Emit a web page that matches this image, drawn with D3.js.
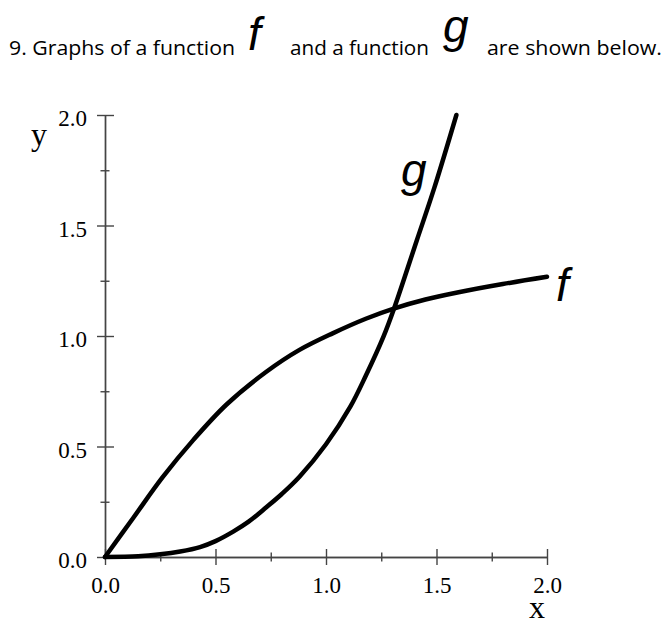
<!DOCTYPE html>
<html>
<head>
<meta charset="utf-8">
<script src="https://cdn.jsdelivr.net/npm/d3@7"></script>
<style>
  body { margin: 0; background: #fff; }
  svg { display: block; }
</style>
</head>
<body>
<script>
// values
var fX = [0, 0.13, 0.26, 0.40, 0.55, 0.73, 0.88, 1.03, 1.18, 1.31, 1.45, 1.60, 1.80, 2.00];
var fY = [0, 0.18, 0.36, 0.53, 0.69, 0.838, 0.937, 1.012, 1.078, 1.125, 1.165, 1.198, 1.235, 1.268];

var gX = [0, 0.15, 0.25, 0.34, 0.43, 0.50, 0.58, 0.65, 0.73, 0.80, 0.88, 1.00, 1.11, 1.18, 1.26, 1.31, 1.41, 1.49, 1.59];
var gY = [0, 0.003, 0.012, 0.025, 0.045, 0.072, 0.115, 0.16, 0.225, 0.285, 0.363, 0.51, 0.68, 0.82, 0.997, 1.13, 1.43, 1.67, 2.0];

var majorTicks = [0, 0.5, 1.0, 1.5, 2.0];
var minorTicks = [0.25, 0.75, 1.25, 1.75];

var width = 669, height = 633;

var svg = d3.select("body").append("svg")
    .attr("width", width)
    .attr("height", height);

var x = d3.scaleLinear().domain([0, 2]).range([105, 547]),
    y = d3.scaleLinear().domain([0, 2]).range([557, 115]);

// TITLE
var title = svg.append("g")
    .attr("font-family", "'Open Sans', sans-serif")
    .attr("font-size", "20px")
    .attr("fill", "#000");

title.append("text").attr("x", 9).attr("y", 55)
    .attr("textLength", 226).attr("lengthAdjust", "spacingAndGlyphs")
    .text("9. Graphs of a function");
title.append("text").attr("x", 290).attr("y", 55)
    .attr("textLength", 139).attr("lengthAdjust", "spacingAndGlyphs")
    .text("and a function");
title.append("text").attr("x", 487).attr("y", 55)
    .attr("textLength", 175).attr("lengthAdjust", "spacingAndGlyphs")
    .text("are shown below.");

var bigItalic = function(sel) {
    sel.attr("font-family", "'Liberation Sans', Arial, sans-serif")
       .attr("font-style", "italic")
       .attr("font-size", "46px")
       .attr("fill", "#000");
};
svg.append("text").call(bigItalic).attr("x", 248).attr("y", 50).text("f");
svg.append("text").call(bigItalic).attr("x", 443).attr("y", 42).text("g");

// AXES
var axisColor = "#444";

var xMajor = svg.append("g")
    .attr("transform", "translate(0," + y(0) + ")")
    .call(d3.axisBottom(x).tickValues(majorTicks).tickSizeOuter(0)
        .tickFormat(d3.format(".1f")));
var xMinor = svg.append("g")
    .attr("transform", "translate(0," + y(0) + ")")
    .call(d3.axisBottom(x).tickValues(minorTicks).tickSizeOuter(0).tickFormat(""));

var yMajor = svg.append("g")
    .attr("transform", "translate(" + x(0) + ",0)")
    .call(d3.axisLeft(y).tickValues(majorTicks).tickSizeOuter(0)
        .tickFormat(d3.format(".1f")));
var yMinor = svg.append("g")
    .attr("transform", "translate(" + x(0) + ",0)")
    .call(d3.axisLeft(y).tickValues(minorTicks).tickSizeOuter(0).tickFormat(""));

// ticks cross the axis line
xMajor.selectAll(".tick line").attr("y1", -8).attr("y2", 8);
xMinor.selectAll(".tick line").attr("y1", -4.5).attr("y2", 4.5);
yMajor.selectAll(".tick line").attr("x1", -8).attr("x2", 9);
yMinor.selectAll(".tick line").attr("x1", -4.5).attr("x2", 4.5);

[xMajor, xMinor, yMajor, yMinor].forEach(function(a) {
    a.selectAll("path.domain").attr("stroke", axisColor).attr("stroke-width", 1.4);
    a.selectAll(".tick line").attr("stroke", axisColor).attr("stroke-width", 1.4);
});

xMajor.selectAll(".tick text")
    .attr("y", 36).attr("dy", 0)
    .attr("font-family", "'Liberation Serif', 'Times New Roman', serif")
    .attr("font-size", "23px")
    .attr("fill", "#000");
yMajor.selectAll(".tick text")
    .attr("x", -18).attr("y", 10.5).attr("dy", 0)
    .attr("font-family", "'Liberation Serif', 'Times New Roman', serif")
    .attr("font-size", "23px")
    .attr("fill", "#000");

// AXIS TITLES
svg.append("text")
    .attr("x", 39).attr("y", 145)
    .attr("text-anchor", "middle")
    .attr("font-family", "'Liberation Serif', 'Times New Roman', serif")
    .attr("font-size", "32px")
    .text("y");
svg.append("text")
    .attr("x", 537).attr("y", 618)
    .attr("text-anchor", "middle")
    .attr("font-family", "'Liberation Serif', 'Times New Roman', serif")
    .attr("font-size", "32px")
    .text("x");

// CURVES
var line = d3.line()
    .x(function(d) { return x(d[0]); })
    .y(function(d) { return y(d[1]); })
    .curve(d3.curveCatmullRom.alpha(0.5));

var fData = d3.zip(fX, fY),
    gData = d3.zip(gX, gY);

svg.selectAll(".curve")
    .data([fData, gData])
    .enter().append("path")
    .attr("class", "curve")
    .attr("d", line)
    .attr("fill", "none")
    .attr("stroke", "#000")
    .attr("stroke-width", 4.5)
    .attr("stroke-linecap", "round")
    .attr("stroke-linejoin", "round");

// curve labels
svg.append("text").call(bigItalic).attr("x", 401).attr("y", 186).text("g");
svg.append("text").call(bigItalic).attr("x", 556).attr("y", 301).text("f");
</script>
</body>
</html>
